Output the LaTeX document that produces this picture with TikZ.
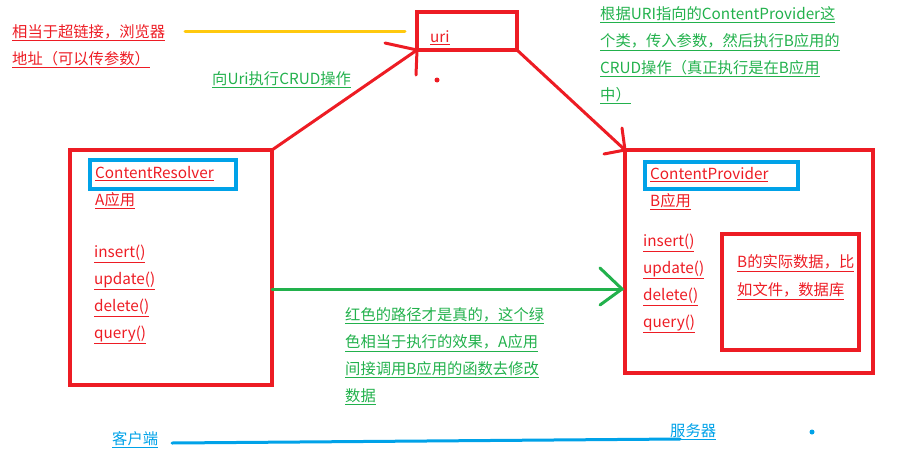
\documentclass[tikz,border=0pt]{standalone}
\usepackage{fontspec}
\setmainfont{Noto Sans CJK SC}
\usetikzlibrary{positioning, calc}
\definecolor{pred}{RGB}{237,28,36}
\definecolor{pgreen}{RGB}{34,177,76}
\definecolor{pblue}{RGB}{0,162,232}
\definecolor{pyellow}{RGB}{255,201,14}
\newcommand{\ul}[1]{\underline{#1}}
\tikzset{
	Arrow/.style = {line width = 3pt, line cap = round},
}
\begin{document}
\begin{tikzpicture}[x=1pt, y=-1pt,
		txt/.style = {anchor = west, inner sep = 0pt, font = \fontsize{15.3}{17}\selectfont},
		redtxt/.style = {txt, text = pred},
		greentxt/.style = {txt, text = pgreen},
		bluetxt/.style = {txt, text = pblue},
		bigbox/.style = {draw = pred, line width = 4pt},
		namebox/.style = {draw = pblue, line width = 3.5pt},
	]
	\useasboundingbox (0,0) rectangle (921,474);

	% boxes
	\draw[bigbox] (417,12) rectangle (517,50);
	\draw[bigbox] (70,150) rectangle (272,385);
	\draw[bigbox] (625,150) rectangle (873,373);
	\draw[bigbox] (722,234) rectangle (859,350);
	\draw[namebox] (90,160) rectangle (236,189);
	\draw[namebox] (645,162) rectangle (798,189);

	\coordinate (uriL) at (417,50);
	\coordinate (uriR) at (517,50);
	\coordinate (resTR) at (272,150);
	\coordinate (provTL) at (625,150);
	\coordinate (resM) at (272,289);
	\coordinate (provM) at (622,289);

	\node[redtxt] (uri) at (430,38) {\ul{uri}};
	\node[redtxt] (resolver) at (95,174) {\ul{ContentResolver}};
	\node[redtxt] (appA) at (95,201) {\ul{A应用}};
	\node[redtxt] (provider) at (650,175) {\ul{ContentProvider}};
	\node[redtxt] (appB) at (650,202) {\ul{B应用}};
	\foreach \m [count=\i] in {insert(), update(), delete(), query()} {
		\node[redtxt] (resM\i) at (94,227+27*\i) {\ul{\m}};
		\node[redtxt] (provM\i) at (643,216+27*\i) {\ul{\m}};
	}
	\begin{scope}
		\clip (722,234) rectangle (857,350);
		\node[redtxt] (data1) at (737,263) {\ul{B的实际数据，比}};
	\end{scope}
	\node[redtxt] (data2) at (737,291) {\ul{如文件，数据库}};

	% connectors
	\draw[Arrow, pred] (resTR) -- (uriL);
	\draw[Arrow, pred] (385,43) -- (uriL) -- (416,75);
	\draw[Arrow, pred] (uriR) -- (provTL);
	\draw[Arrow, pred] (622,128) -- (provTL) -- (604,154);
	\draw[Arrow, pgreen] (resM) -- (provM);
	\draw[Arrow, pgreen] (600,268) -- (provM) -- (600,305);

	\coordinate (yA) at (185,31);
	\coordinate (yB) at (405,31);
	\draw[Arrow, pyellow] (yA) -- (yB);
	\node[bluetxt] (client) at (112,440) {\ul{客户端}};
	\node[bluetxt] (server) at (670,432) {\ul{服务器}};
	\coordinate (bA) at (172,443);
	\coordinate (bB) at (680,439);
	\draw[Arrow, pblue] (bA) -- (bB);
	\fill[pblue] (812,432) circle (2.5);
	\fill[pred] (437,80) circle (2.5);

	% annotations
	\node[redtxt] (note1) at (12,33) {\ul{相当于超链接，浏览器}};
	\node[redtxt] (note2) at (12,60) {\ul{地址（可以传参数）}};
	\node[greentxt] (crud) at (212,80) {\ul{向Uri执行CRUD操作}};
	\foreach \t [count=\i] in {根据URI指向的ContentProvider这, 个类，传入参数，然后执行B应用的, CRUD操作（真正执行是在B应用, 中）}
		\node[greentxt] (pnote\i) at (600,-12+27*\i) {\ul{\t}};
	\foreach \t [count=\i] in {红色的路径才是真的，这个绿, 色相当于执行的效果，A应用, 间接调用B应用的函数去修改, 数据}
		\node[greentxt] (gnote\i) at (345,289+27*\i) {\ul{\t}};
\end{tikzpicture}
\end{document}
